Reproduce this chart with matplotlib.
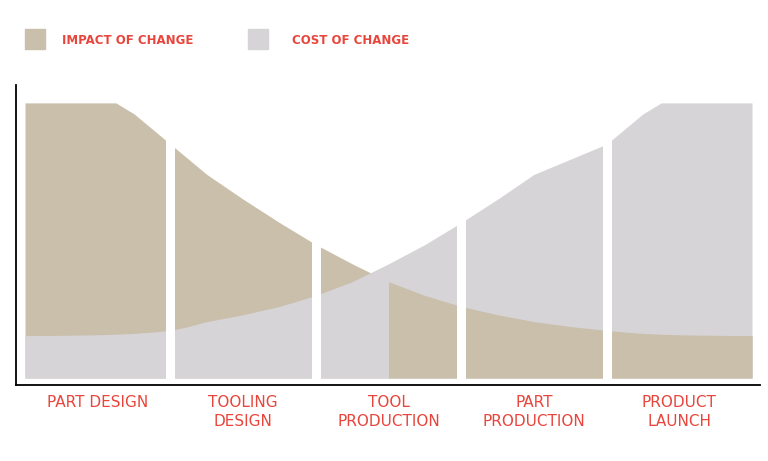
import matplotlib
matplotlib.use("Agg")
import matplotlib.pyplot as plt
import numpy as np

stages = ["PART DESIGN", "TOOLING\nDESIGN", "TOOL\nPRODUCTION", "PART\nPRODUCTION", "PRODUCT\nLAUNCH"]
x = [0, .25, .5, .625, .75, .875, 1.0, 1.125, 1.25, 1.5, 1.75, 2.0, 2.25, 2.5,
     2.75, 3.0, 3.25, 3.5, 3.75, 4.0, 4.125, 4.25, 4.375, 4.5, 4.75, 5.0]
impact = [100, 100, 100, 100, 96, 90.5, 85, 79.5, 74, 65, 56.5, 48.5, 41.5, 35,
          30, 26, 23, 20.5, 18.7, 17.3, 16.7, 16.2, 15.9, 15.7, 15.5, 15.4]
cost = impact[::-1]

beige = "#c9bfab"
grey = "#d6d4d7"
red = "#e8453c"

fig = plt.figure(figsize=(7.68, 4.61), dpi=100)
ax = fig.add_axes([16/768, 1-385/461, 744/768, 300/461])
xa = np.array(x)
left = xa <= 2.5
right = xa >= 2.5
ax.fill_between(x, 0, impact, color=beige, lw=0)
ax.fill_between(x, 0, cost, where=left, color=grey, lw=0)
ax.fill_between(x, 0, cost, where=right, color=grey, lw=0)
ax.fill_between(x, 0, impact, where=right, color=beige, lw=0)
for b in [1, 2, 3, 4]:
    ax.axvline(b, color="white", lw=6.5)
ax.set_xlim(-0.062, 5.055)
ax.set_ylim(-2.55, 106.5)
for s in ["top", "right"]:
    ax.spines[s].set_visible(False)
ax.spines["left"].set_linewidth(1.3)
ax.spines["bottom"].set_linewidth(1.3)
ax.set_xticks([])
ax.set_yticks([])
for i, s in enumerate(stages):
    fig.text((25 + (i + 0.5) * 145.4) / 768, 1 - 395 / 461, s, ha="center", va="top",
             color=red, fontsize=11, linespacing=1.3)

fig.patches.append(plt.Rectangle((25/768, 1-49/461), 20/768, 20/461, color=beige, transform=fig.transFigure))
fig.patches.append(plt.Rectangle((248/768, 1-49/461), 20/768, 20/461, color=grey, transform=fig.transFigure))
fig.text(62/768, 1-40/461, "IMPACT OF CHANGE", color=red, fontsize=8.5, fontweight="bold", va="center")
fig.text(292/768, 1-40/461, "COST OF CHANGE", color=red, fontsize=8.5, fontweight="bold", va="center")
fig.savefig("out.png", dpi=100)
